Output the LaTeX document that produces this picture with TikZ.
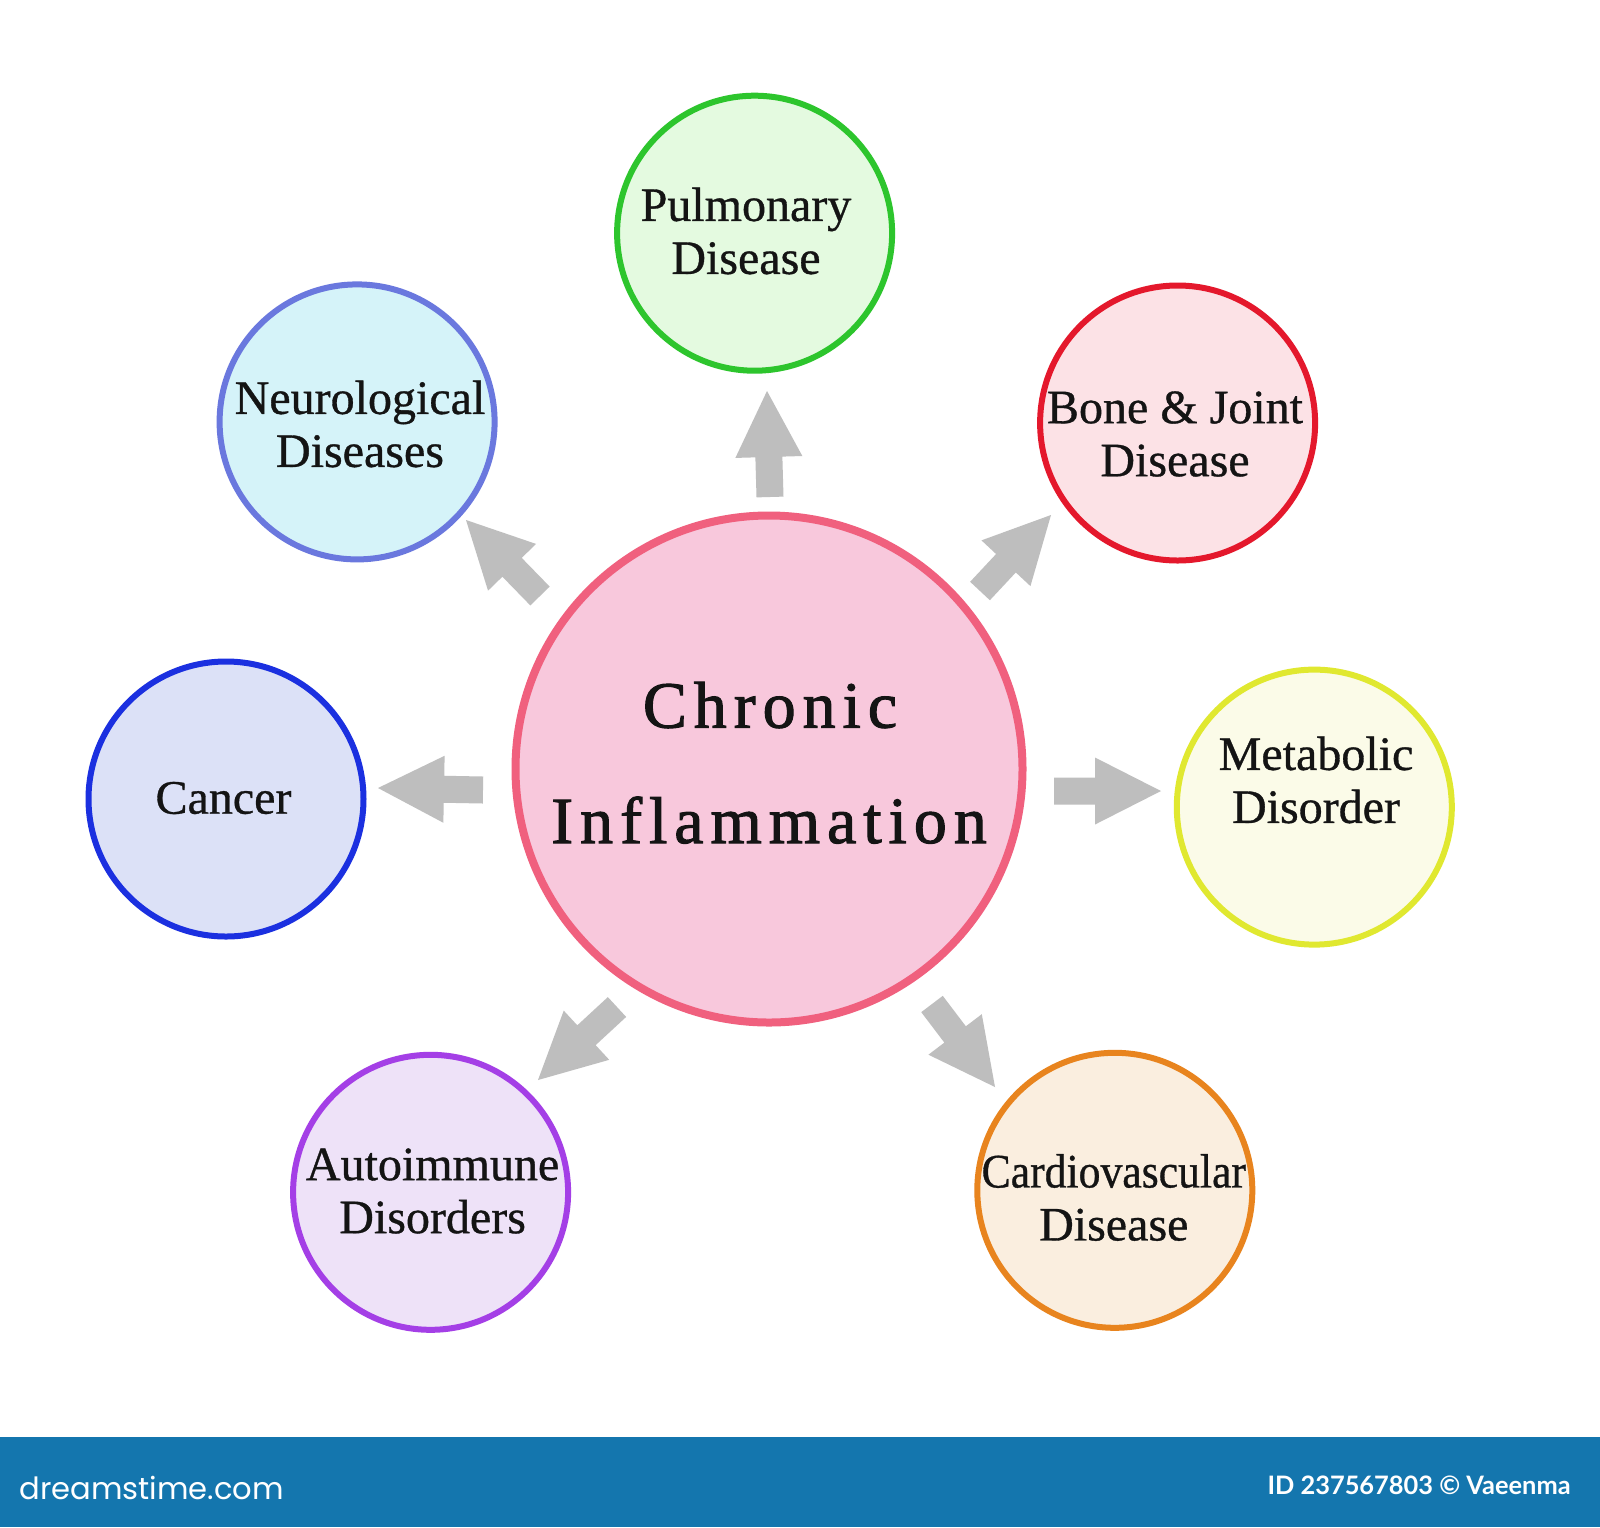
\documentclass[tikz,border=0pt]{standalone}
\usepackage{fontspec}
\setmainfont{Liberation Serif}[FakeBold=0.6]
\newfontfamily\lblfont[FakeBold=0.7]{Liberation Serif}
\newfontfamily\titlefont[LetterSpace=10.5,FakeBold=1.6]{Liberation Serif}
\newfontfamily\logofont{Poppins}
\newfontfamily\idfont{Lato}
\usetikzlibrary{calc}
\definecolor{cfill}{HTML}{F8C8DC}\definecolor{cline}{HTML}{F0607E}
\definecolor{pfill}{HTML}{E4FAE0}\definecolor{pline}{HTML}{2DC52D}
\definecolor{nfill}{HTML}{D5F3F9}\definecolor{nline}{HTML}{6A78DE}
\definecolor{bfill}{HTML}{FCE2E6}\definecolor{bline}{HTML}{E4182C}
\definecolor{kfill}{HTML}{DCE1F7}\definecolor{kline}{HTML}{1B30E0}
\definecolor{mfill}{HTML}{FBFBE8}\definecolor{mline}{HTML}{E0E830}
\definecolor{afill}{HTML}{EEE2F8}\definecolor{aline}{HTML}{A43FE6}
\definecolor{vfill}{HTML}{FAEEDF}\definecolor{vline}{HTML}{E8841E}
\definecolor{arrowgray}{HTML}{BEBEBE}
\definecolor{barblue}{HTML}{1476AE}
\definecolor{txt}{HTML}{141414}
\newcommand\blkarrow[2]{%
  \coordinate (#2-h) at ($(#2)!33pt!(#1)$);
  \fill[arrowgray] ($(#1)!6.75pt!90:(#2)$) -- ($(#2-h)!6.75pt!90:(#2)$)
    -- ($(#2-h)!16.75pt!90:(#2)$) -- (#2) -- ($(#2-h)!16.75pt!-90:(#2)$)
    -- ($(#2-h)!6.75pt!-90:(#2)$) -- ($(#1)!6.75pt!-90:(#2)$) -- cycle;}
\tikzset{
  disc/.style={circle, line width=3pt, minimum size=137.5pt, inner sep=0pt},
  lbl/.style={align=center, inner sep=0pt, text=txt, font=\lblfont\fontsize{24}{26.5}\selectfont},
  title/.style={inner sep=0pt, text=txt, anchor=base, font=\titlefont\fontsize{33}{33}\selectfont},
}
\begin{document}
\begin{tikzpicture}[x=0.5pt,y=-0.5pt]
\path[use as bounding box, fill=white] (0,0) rectangle (1600,1527);
% discs
\node[circle, line width=4pt, minimum size=253.5pt, inner sep=0pt, draw=cline, fill=cfill] (center) at (769,769) {};
\node[disc, draw=pline, fill=pfill] (pulm) at (754.6,233.2) {};
\node[disc, draw=nline, fill=nfill] (neuro) at (357.1,421.9) {};
\node[disc, draw=bline, fill=bfill] (bone) at (1177.6,423) {};
\node[disc, draw=kline, fill=kfill] (cancer) at (226,799) {};
\node[disc, draw=mline, fill=mfill] (meta) at (1314.3,807.1) {};
\node[disc, draw=aline, fill=afill] (auto) at (430.6,1192.3) {};
\node[disc, draw=vline, fill=vfill] (cardio) at (1114.8,1190.3) {};
% texts
\node[title] (t1) at (770,727.6) {Chronic};
\node[title] (t2) at (769,843) {Inflammation};
\node[lbl] (pulm-t) at (746,231) {Pulmonary\\Disease};
\node[lbl] (neuro-t) at (360,424) {Neurological\\Diseases};
\node[lbl] (bone-t) at (1175,434) {Bone \& Joint\\Disease};
\node[lbl] (cancer-t) at (223.5,798) {Cancer};
\node[lbl] (meta-t) at (1316,780) {Metabolic\\Disorder};
\node[lbl] (auto-t) at (432.6,1191) {Autoimmune\\Disorders};
\node[lbl] (cardio-t) at (1113.8,1197.5) {\scalebox{0.91}[1]{Cardiovascular}\\Disease};
% arrows
\coordinate (a1s) at (770,497);  \coordinate (a1e) at (767,391);
\coordinate (a2s) at (540,596);  \coordinate (a2e) at (466,520);
\coordinate (a3s) at (980,591);  \coordinate (a3e) at (1051,515);
\coordinate (a4s) at (483,790);  \coordinate (a4e) at (378,788);
\coordinate (a5s) at (1054,791); \coordinate (a5e) at (1161,791);
\coordinate (a6s) at (617,1007); \coordinate (a6e) at (538,1080);
\coordinate (a7s) at (932,1004); \coordinate (a7e) at (995,1087);
\blkarrow{a1s}{a1e}
\blkarrow{a2s}{a2e}
\blkarrow{a3s}{a3e}
\blkarrow{a4s}{a4e}
\blkarrow{a5s}{a5e}
\blkarrow{a6s}{a6e}
\blkarrow{a7s}{a7e}
% bottom bar
\fill[barblue] (0,1436.7) rectangle (1600,1527);
\node[inner sep=0pt, anchor=base west, text=white, font=\logofont\fontsize{15.3}{16}\selectfont] (logo) at (19,1499) {dreamstime.com};
\node[inner sep=0pt, anchor=base east, text=white, font=\idfont\bfseries\fontsize{12.7}{13}\selectfont] (idtxt) at (1571,1494) {ID 237567803 © Vaeenma};
\end{tikzpicture}
\end{document}
